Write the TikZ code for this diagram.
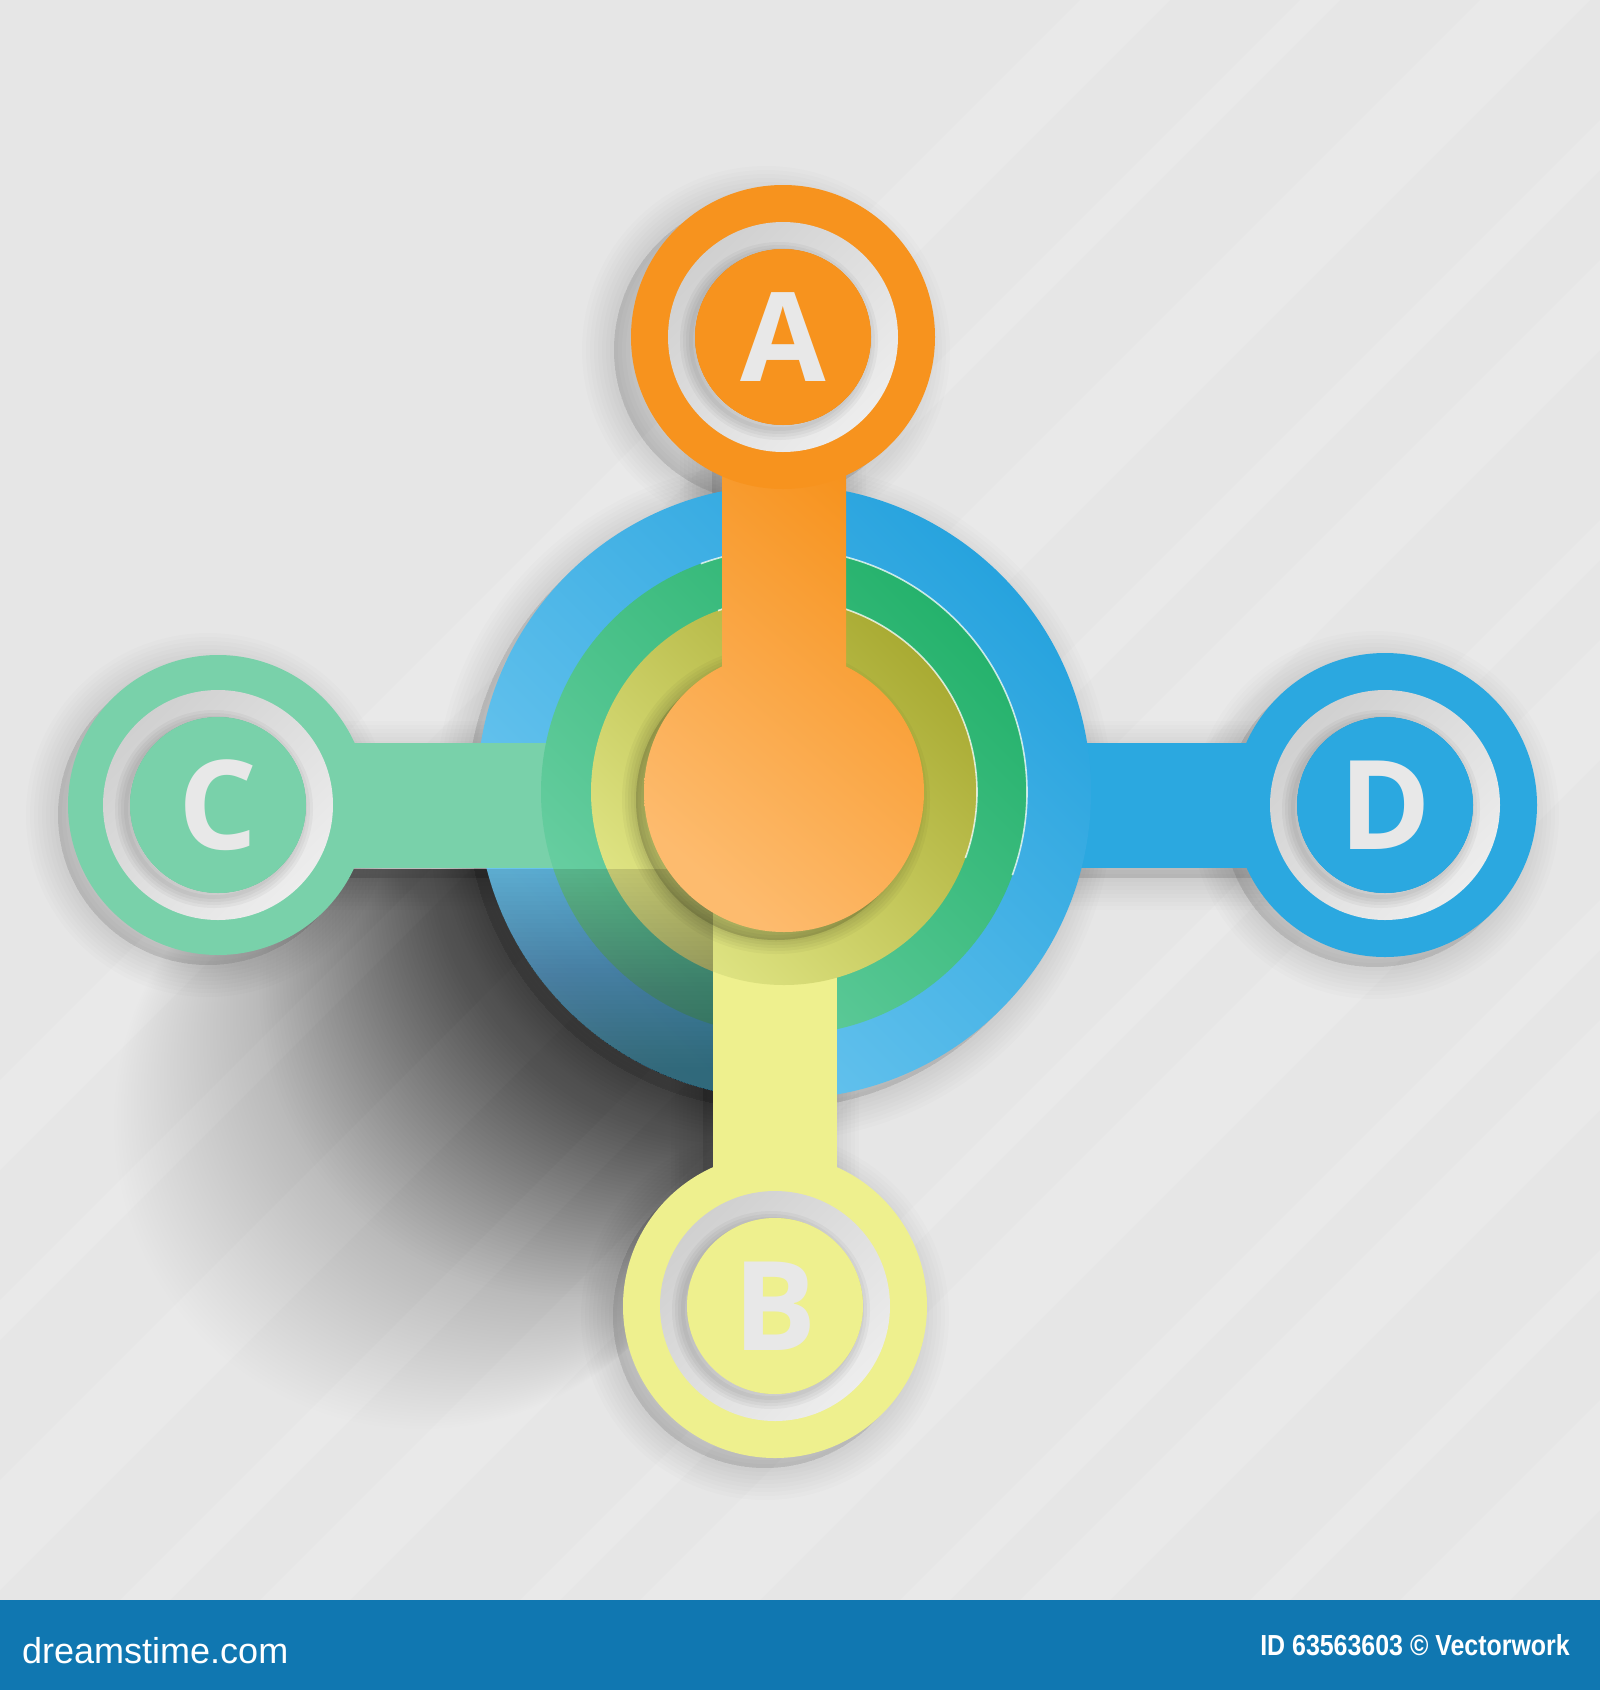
\documentclass[tikz,border=0pt]{standalone}
\usepackage{fontspec}
\usepackage{graphicx}
\newfontfamily\letterfont{Open Sans}
\newfontfamily\barfont{Liberation Sans}
\definecolor{bgcol}{HTML}{E6E6E6}
\definecolor{ccA}{HTML}{F7931E}
\definecolor{ccAlight}{HTML}{FDBB6E}
\definecolor{ccB}{HTML}{EEF08E}
\definecolor{ccC}{HTML}{79D1AA}
\definecolor{ccD}{HTML}{2BA8E0}
\definecolor{blueTop}{HTML}{27A3DE}
\definecolor{blueBot}{HTML}{70C8F0}
\definecolor{greenTop}{HTML}{25B26C}
\definecolor{greenBot}{HTML}{6ACFA3}
\definecolor{yelTop}{HTML}{A9AB33}
\definecolor{yelBot}{HTML}{E0E585}
\definecolor{ringdark}{HTML}{D0D0D0}
\definecolor{ringlight}{HTML}{EDEDED}
\definecolor{lettergray}{HTML}{E8E8E8}
\definecolor{barblue}{HTML}{1077B1}
\tikzset{
  discnode/.style={circle, inner sep=0pt, outer sep=0pt, minimum size=#1},
  stembar/.style={line width=#1, line cap=butt},
  softsh/.style={draw=black, fill=black, opacity=0.012, line width=#1, line join=round},
  lettertext/.style={font=\letterfont\bfseries\fontsize{124}{124}\selectfont, text=lettergray, inner sep=0pt, outer sep=0pt},
  ringcut/.style={top color=ringdark, bottom color=ringlight, shading angle=45},
  rimline/.style={draw=white, line width=1.6pt, opacity=0.75},
  bartext/.style={text=white, inner sep=0pt},
}
\begin{document}
\begin{tikzpicture}[x=1pt,y=-1pt]
\useasboundingbox (0,0) rectangle (1600,1690);
\fill[bgcol] (0,0) rectangle (1600,1600);
\begin{scope}
  \clip (0,0) rectangle (1600,1600);
  \foreach \off/\wd in {-520/90,-300/40,-120/110,120/50,260/90,520/40,640/120,900/50,1020/90,1250/40,1400/110,1650/50,1780/90} {
    \fill[white, opacity=0.12] (\off,1600) -- ({\off+\wd},1600) -- ({\off+\wd+1600},0) -- ({\off+1600},0) -- cycle;
  }
\end{scope}
% centres
\coordinate (cHub) at (784,792);
\coordinate (cA) at (783,337);
\coordinate (cB) at (775,1306);
\coordinate (cC) at (218,805);
\coordinate (cD) at (1385,805);
% long cast shadow
\begin{scope}
  \clip (0,869) rectangle (713,1600);
  \foreach \sh [evaluate=\sh as \opa using {0.009*exp(-max(\sh-150,0)/120)}] in {0,3,...,330}
    \fill[black, opacity=\opa] ([shift={(-1.1*\sh,\sh)}]cHub) circle[radius=307pt];
\end{scope}
% soft drop shadows
\foreach \w in {8,16,...,64} {
  \path[softsh=\w pt] (774,802) circle[radius=307pt];
  \path[softsh=\w pt] (766,350) circle[radius=152pt];
  \path[softsh=\w pt] (765,1316) circle[radius=152pt];
  \path[softsh=\w pt] (208,815) circle[radius=150pt];
  \path[softsh=\w pt] (1375,815) circle[radius=152pt];
  \path[softsh=\w pt] (712,347) rectangle (834,700);
  \path[softsh=\w pt] (703,1000) rectangle (827,1316);
  \path[softsh=\w pt] (208,753) rectangle (600,878);
  \path[softsh=\w pt] (1000,753) rectangle (1375,878);
}
% blue layer with D
\draw[stembar=125pt, ccD] (cD) -- (cHub |- cD);
\node[discnode=304pt, fill=ccD] (D) at (cD) {};
\node[discnode=614pt, top color=blueTop, bottom color=blueBot, shading angle=-45] (hub) at (cHub) {};
% green layer with C
\draw[stembar=125pt, ccC] (cC) -- (cHub |- cC);
\node[discnode=300pt, fill=ccC] (C) at (cC) {};
\node[discnode=486pt, top color=greenTop, bottom color=greenBot, shading angle=-45] (gring) at (cHub) {};
\draw[rimline] ([shift={(-110:243)}]cHub) arc[start angle=-110, end angle=20, radius=243];
% yellow layer with B
\draw[stembar=124pt, ccB] (cB) -- (cB |- cHub);
\node[discnode=304pt, fill=ccB] (B) at (cB) {};
\node[discnode=386pt, top color=yelTop, bottom color=yelBot, shading angle=-45] (yring) at (cHub) {};
\draw[rimline] ([shift={(-110:193)}]cHub) arc[start angle=-110, end angle=20, radius=193];
% shadow over the lower-left of the hub
\begin{scope}
  \clip (cHub) circle[radius=307pt];
  \clip (400,869) rectangle (713,1120);
  \fill[black, opacity=0.12] (400,869) rectangle (713,1120);
  \foreach \k in {0,...,44}
    \fill[black, opacity=0.008] (400,{869+4.5*\k}) rectangle (713,1120);
\end{scope}
% shadow of the orange core
\foreach \w in {4,10,...,28}
  \path[softsh=\w pt, opacity=0.03] (776,800) circle[radius=140pt];
% orange core and A stem
\node[discnode=280pt] (core) at (cHub) {};
\begin{scope}
  \clip (722,440) rectangle (846,792);
  \shade[top color=ccA, bottom color=ccAlight, shading angle=-40] (644,440) rectangle (924,932);
\end{scope}
\begin{scope}
  \clip (core.center) circle[radius=140pt];
  \shade[top color=ccA, bottom color=ccAlight, shading angle=-40] (644,440) rectangle (924,932);
\end{scope}
\node[discnode=304pt, fill=ccA] (A) at (cA) {};
% cut-out rings and letters
\foreach \n/\col in {A/ccA, B/ccB, C/ccC, D/ccD} {
  \shade[ringcut, even odd rule] (\n) circle[radius=115pt] (\n) circle[radius=88pt];
  \foreach \w in {4,10,16,22}
    \draw[black, opacity=0.035, line width=\w pt] ([shift={(-4,4)}]\n) circle[radius=88pt];
  \fill[\col] (\n) circle[radius=88pt];
  \node[lettertext] (lbl\n) at (\n) {\n};
}
% bottom bar
\fill[barblue] (0,1600) rectangle (1600,1690);
\node[bartext, anchor=west, font=\barfont\fontsize{36}{36}\selectfont] (brand) at (22,1651) {dreamstime.com};
\node[bartext, anchor=east, font=\barfont\bfseries\fontsize{29}{29}\selectfont] (credit) at (1570,1645) {\scalebox{0.86}[1]{ID 63563603 © Vectorwork}};
\end{tikzpicture}
\end{document}
